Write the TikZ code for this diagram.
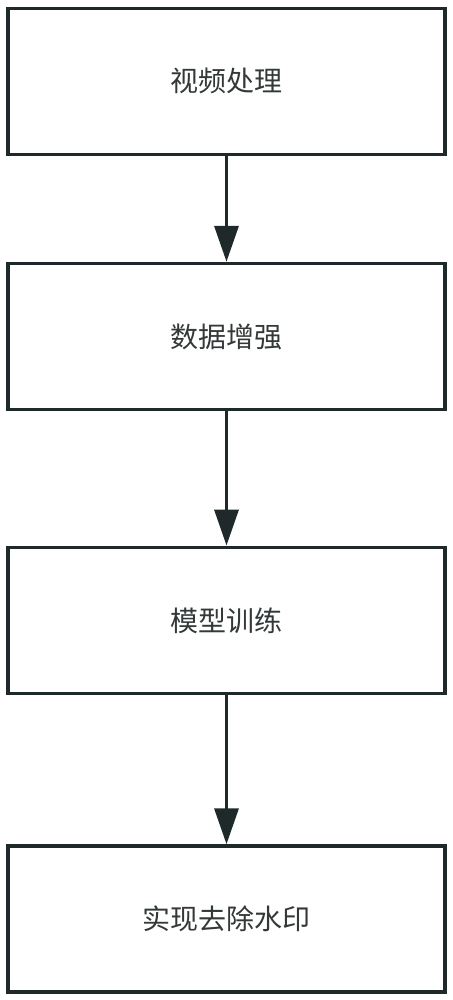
\documentclass[tikz,border=0pt]{standalone}
\usepackage{fontspec}
\newfontfamily\cjk{Noto Sans CJK SC}
\usetikzlibrary{arrows.meta}
\definecolor{boxline}{RGB}{31,41,41}
\definecolor{boxtext}{RGB}{51,56,56}
\tikzset{
	stepbox/.style={draw=boxline,line width=2.6pt,fill=white,minimum width=327.75pt,minimum height=109.5pt,inner sep=0pt,font=\cjk\fontsize{21}{25}\selectfont,text=boxtext},
	flow/.style={draw=boxline,line width=2.6pt,-{Triangle[width=18pt,length=27pt]}}
}
\begin{document}
\begin{tikzpicture}[x=0.75pt,y=0.75pt,yscale=-1,xscale=1]
	\useasboundingbox (0,0) rectangle (453,1000);

	% Boxes
	\node [stepbox] (video) at (226.5,81.25) {视频处理};
	\node [stepbox] (augment) at (226.5,336.5) {数据增强};
	\node [stepbox] (train) at (226.5,620.3) {模型训练};
	\node [stepbox] (remove) at (226.5,919) {实现去除水印};

	% Connections
	\draw [flow] (video) -- (augment);
	\draw [flow] (augment) -- (train);
	\draw [flow] (train) -- (remove);

\end{tikzpicture}
\end{document}
